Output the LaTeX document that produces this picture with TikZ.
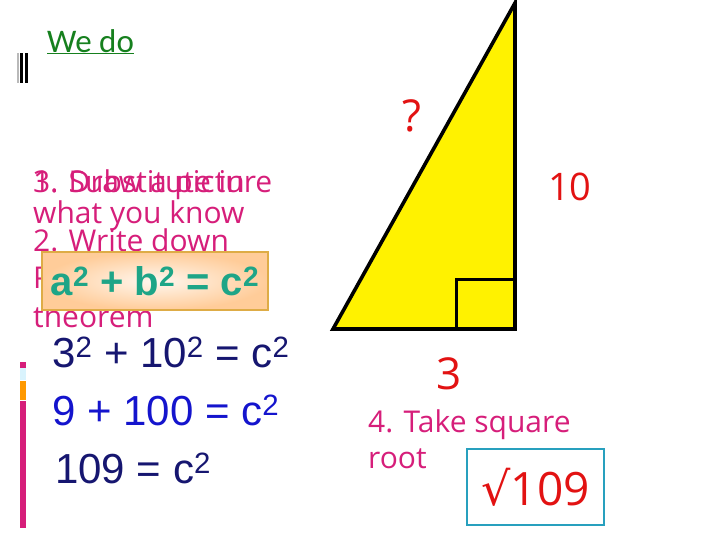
\documentclass[tikz,border=0pt]{standalone}
\usepackage{fontspec}
\setmainfont{Open Sans}
\newfontfamily\calibfont{Carlito}
\newfontfamily\arialfont{Liberation Sans}
\newfontfamily\symfont{DejaVu Sans}
\definecolor{stepink}{RGB}{214,30,122}
\definecolor{numred}{RGB}{226,18,18}
\definecolor{titlegreen}{RGB}{22,128,30}
\definecolor{eqnavy}{RGB}{22,22,112}
\definecolor{eqblue}{RGB}{20,20,205}
\definecolor{formteal}{RGB}{30,165,135}
\definecolor{boxgold}{RGB}{222,172,70}
\definecolor{boxteal}{RGB}{40,160,190}

\begin{document}
\begin{tikzpicture}[x=1pt,y=-1pt,
    steptext/.style={anchor=base west,inner sep=0pt,text=stepink,font=\fontsize{30}{33}\selectfont},
    sidelabel/.style={anchor=base west,inner sep=0pt,text=numred},
    eqn/.style={anchor=base west,inner sep=0pt,font=\arialfont\fontsize{42}{46}\selectfont}]
    \useasboundingbox (0,0) rectangle (728,546);
    % marks on the left
    \fill[gray!55] (17,53) rectangle (19,83);
    \fill[black] (19.5,53) rectangle (23,83);
    \fill[black] (24.5,53) rectangle (28,83);
    \fill[stepink] (20,362) rectangle (26,368);
    \fill[cyan!15] (20,368) rectangle (26,380);
    \fill[orange!80!yellow] (20,381) rectangle (26,400);
    \fill[stepink] (20,401) rectangle (26,528);
    % title
    \node (title) [anchor=base west,inner sep=0pt,text=titlegreen] at (47,52)
        {\calibfont\fontsize{33}{36}\selectfont\underline{We do}};
    % steps
    \node (draw1) [steptext] at (33,192) {1. Draw a picture};
    \node (subst1) [steptext] at (33,192) {3. Substitute in};
    \node (subst2) [steptext] at (33,223) {what you know};
    \node (write1) [steptext] at (33,251) {2. Write down};
    \node (write2) [steptext] at (33,288) {Pythagoras'};
    \node (write3) [steptext] at (33,327) {theorem};
    \node (formula) [draw=boxgold,line width=1.5pt,shading=radial,inner color=orange!6,outer color=orange!40,
        minimum width=226,minimum height=58,inner sep=0pt] at (155,281)
        {\arialfont\bfseries\fontsize{40}{42}\selectfont\color{formteal}a\textsuperscript{2} + b\textsuperscript{2} = c\textsuperscript{2}};
    % working
    \node (eq1) [eqn,text=eqnavy] at (52,367) {3\textsuperscript{2} + 10\textsuperscript{2} = c\textsuperscript{2}};
    \node (eq2) [eqn,text=eqblue] at (52,425) {9 + 100 = c\textsuperscript{2}};
    \node (eq3) [eqn,text=eqnavy] at (55,483) {109 = c\textsuperscript{2}};
    % triangle
    \coordinate (A) at (333,329);
    \coordinate (B) at (515,329);
    \coordinate (C) at (515,3);
    \draw[line width=3.6pt,fill=yellow,line join=miter] (A) -- (B) -- (C) -- cycle;
    \coordinate (R1) at (456,329);
    \coordinate (R2) at (456,279);
    \coordinate (R3) at (515,279);
    \draw[line width=3pt] (R1) -- (R2) -- (R3);
    \node (hyp) [sidelabel,font=\fontsize{44}{48}\selectfont] at (402,131) {?};
    \node (side) [sidelabel,font=\fontsize{38}{40}\selectfont] at (548,200) {10};
    \node (base) [sidelabel,font=\fontsize{44}{46}\selectfont] at (436,389) {3};
    % last step
    \node (take1) [steptext] at (368,432) {4. Take square};
    \node (take2) [steptext] at (368,468) {root};
    \node (answer) [draw=boxteal,line width=1.5pt,minimum width=137,minimum height=76,inner sep=0pt,
        text=numred,font=\fontsize{46}{48}\selectfont] at (535.5,487) {{\symfont √}109};
\end{tikzpicture}
\end{document}
